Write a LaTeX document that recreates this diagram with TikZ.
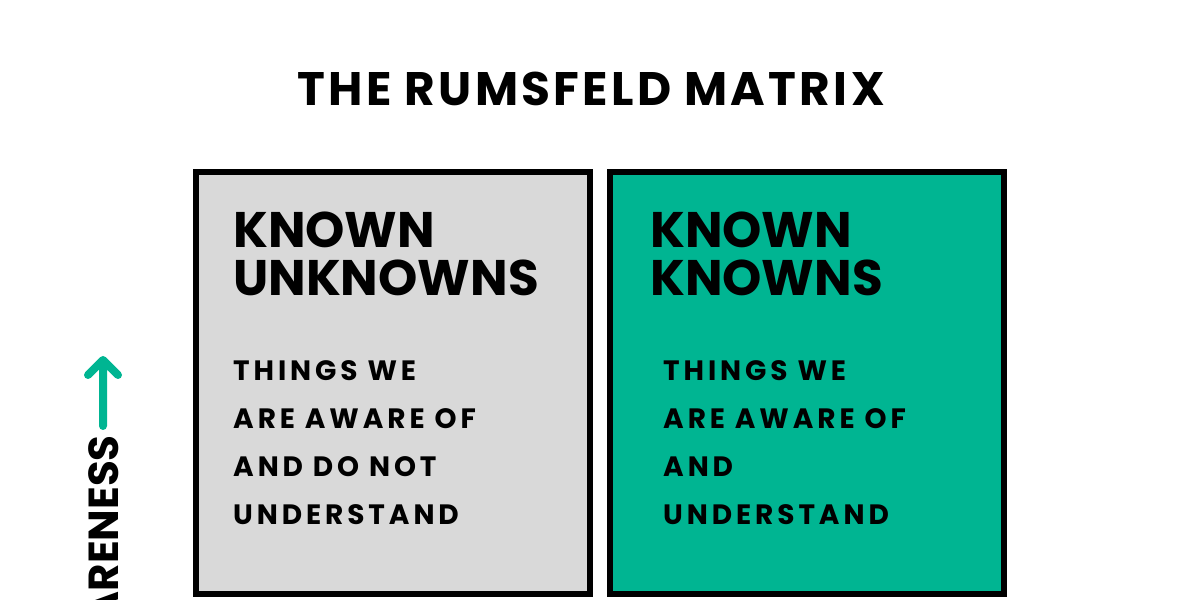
\documentclass[tikz,border=0pt]{standalone}
\usepackage{fontspec}
\setmainfont{Poppins}[BoldFont=* Bold]
\definecolor{teal1}{HTML}{00B592}
\definecolor{gray1}{HTML}{D9D9D9}
\begin{document}
\begin{tikzpicture}[x=1pt,y=1pt,
  box/.style={draw=black,line width=6pt},
  head/.style={anchor=base west,inner sep=0,font=\bfseries\fontsize{50}{48}\selectfont,align=left},
  body/.style={anchor=base west,inner sep=0,font=\bfseries\addfontfeatures{LetterSpace=14}\fontsize{28}{48}\selectfont,align=left}]
\useasboundingbox (0,0) rectangle (1200,600);
\node[inner sep=0,anchor=base,font=\bfseries\addfontfeatures{LetterSpace=7}\fontsize{47}{47}\selectfont] (title) at (591,494) {THE RUMSFELD MATRIX};
\draw[box,fill=gray1] (196,6) rectangle (590,428);
\draw[box,fill=teal1] (610,6) rectangle (1004,428);
\node[head] (h1) at (233,304) {KNOWN\\UNKNOWNS};
\node[head] (h2) at (650,304) {KNOWN\\KNOWNS};
\node[body] (b1) at (233,75) {THINGS WE\\ARE AWARE OF\\AND DO NOT\\UNDERSTAND};
\node[body] (b2) at (663,75) {THINGS WE\\ARE AWARE OF\\AND\\UNDERSTAND};
\coordinate (a0) at (103,174);
\coordinate (a1) at (103,240);
\draw[teal1,line width=8pt,line cap=round,line join=round] (a0) -- (a1) (88,225) -- (a1) -- (118,225);
\node[rotate=90,anchor=south east,inner sep=0,font=\bfseries\fontsize{42}{42}\selectfont] (aw) at (119,165) {AWARENESS};
\end{tikzpicture}
\end{document}
